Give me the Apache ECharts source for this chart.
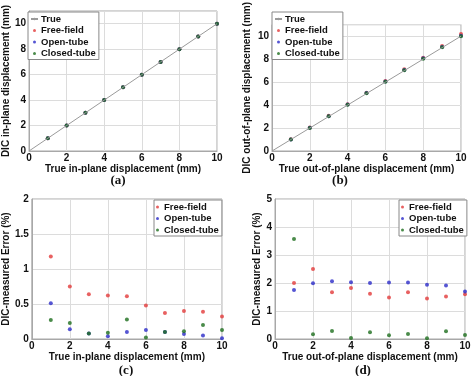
<!DOCTYPE html>
<html>
<head>
<meta charset="utf-8">
<script src="https://cdn.jsdelivr.net/npm/echarts@6/dist/echarts.min.js"></script>
<style>
	html, body { margin: 0; padding: 0; background: #fff; }
	#chart { width: 474px; height: 376px; }
</style>
</head>
<body>
<div id="chart"></div>
<script>
// 資料
var dispX = [1, 2, 3, 4, 5, 6, 7, 8, 9, 10];
var trueX = [0, 1, 2, 3, 4, 5, 6, 7, 8, 9, 10];

// (a) in-plane
var inFree = [1.0, 2.0, 3.0, 4.0, 5.0, 6.0, 7.0, 8.0, 9.0, 10.0];
var inOpen = [1.0, 2.0, 3.0, 4.0, 5.0, 6.0, 7.0, 8.0, 9.0, 10.0];
var inClosed = [1.0, 2.0, 3.0, 4.0, 5.0, 6.0, 7.0, 8.0, 9.0, 10.0];

// (b) out-of-plane
var outFree = [1.03, 2.05, 3.06, 4.07, 5.08, 6.09, 7.11, 8.13, 9.15, 10.18];
var outOpen = [1.01, 2.02, 3.03, 4.04, 5.05, 6.05, 7.06, 8.07, 9.06, 10.04];
var outClosed = [1.0, 2.01, 3.02, 4.02, 5.03, 6.03, 7.04, 8.04, 9.03, 10.0];

// (c) in-plane error (%)
var errInFree = [1.18, 0.75, 0.64, 0.62, 0.61, 0.48, 0.37, 0.40, 0.39, 0.32];
var errInOpen = [0.51, 0.14, 0.08, 0.04, 0.10, 0.13, 0.10, 0.07, 0.05, 0.01];
var errInClosed = [0.27, 0.23, 0.08, 0.09, 0.28, 0.02, 0.10, 0.11, 0.20, 0.13];

// (d) out-of-plane error (%)
var errOutFree = [2.0, 2.5, 1.67, 1.82, 1.62, 1.48, 1.67, 1.45, 1.52, 1.60];
var errOutOpen = [1.75, 1.99, 2.06, 2.03, 2.0, 2.02, 2.02, 1.94, 1.91, 1.70];
var errOutClosed = [3.57, 0.17, 0.29, 0.04, 0.24, 0.13, 0.18, 0.03, 0.28, 0.14];

var color = { "True": "#9a9a9a", "Free-field": "#e23a3a", "Open-tube": "#2a2ac8", "Closed-tube": "#1d6e1d" };
var font = "Liberation Sans, Arial, sans-serif";
var gridColor = "#dcdcdc";
var boxColor = "#a8a8a8";

var grids = [
	{ left: 28, top: 11, width: 189, height: 140 },
	{ left: 272, top: 11, width: 189, height: 140 },
	{ left: 31, top: 199, width: 191, height: 140 },
	{ left: 275, top: 199, width: 190, height: 140 }
];

function pairs(ys, xs) {
	xs = xs || dispX;
	return xs.map(function (x, i) { return [x, ys[i]]; });
}

function xAxis(idx, name) {
	return {
		gridIndex: idx, type: "value", min: 0, max: 10, interval: 2,
		name: name, nameLocation: "middle", nameGap: 10,
		nameTextStyle: { fontFamily: font, fontWeight: "bold", fontSize: 10, color: "#111" },
		axisLine: { show: true, lineStyle: { color: boxColor } },
		axisTick: { show: false },
		axisLabel: { margin: 2, fontFamily: font, fontWeight: "bold", fontSize: 10, color: "#111" },
		splitLine: { show: true, lineStyle: { color: gridColor } }
	};
}

function yAxis(idx, name, max, interval, gap) {
	return {
		gridIndex: idx, type: "value", min: 0, max: max, interval: interval,
		name: name, nameLocation: "middle", nameGap: gap,
		nameTextStyle: { fontFamily: font, fontWeight: "bold", fontSize: 10, color: "#111" },
		axisLine: { show: true, lineStyle: { color: boxColor } },
		axisTick: { show: false },
		axisLabel: { margin: 3, showMaxLabel: max % interval === 0, fontFamily: font, fontWeight: "bold", fontSize: 10, color: "#111" },
		splitLine: { show: true, lineStyle: { color: gridColor } }
	};
}

function legend(names, pos) {
	return Object.assign({
		orient: "vertical",
		data: names,
		backgroundColor: "#fff",
		borderColor: "#888",
		borderWidth: 1,
		padding: [2, 3, 1, 2],
		itemWidth: 7,
		itemHeight: 3,
		itemGap: 1.5,
		textStyle: { fontFamily: font, fontWeight: "bold", fontSize: 9.5, color: "#111", padding: [0, 0, 0, -2], lineHeight: 10 },
		selectedMode: false
	}, pos);
}

function scatter(name, idx, ys) {
	return {
		name: name, type: "scatter", xAxisIndex: idx, yAxisIndex: idx,
		symbol: "circle", symbolSize: 4,
		itemStyle: { color: color[name] },
		data: pairs(ys)
	};
}

function trueLine(idx) {
	return {
		name: "True", type: "line", xAxisIndex: idx, yAxisIndex: idx,
		symbol: "none", lineStyle: { color: color["True"], width: 1 },
		itemStyle: { color: color["True"] },
		data: pairs(trueX, trueX)
	};
}

function caption(text, x, y) {
	return {
		type: "text", x: x, y: y,
		style: { text: text, textAlign: "center", textVerticalAlign: "middle", font: "bold 13px 'Liberation Serif', 'Times New Roman', serif", fill: "#111" }
	};
}

var myChart = echarts.init(document.getElementById("chart"), null, { renderer: "canvas" });
var allNames = ["True", "Free-field", "Open-tube", "Closed-tube"];
var errNames = ["Free-field", "Open-tube", "Closed-tube"];

var option = {
	animation: false,
	grid: grids.map(function (g) { return Object.assign({ show: true, borderColor: boxColor, borderWidth: 1, backgroundColor: "#fff" }, g); }),
	xAxis: [
		xAxis(0, "True in-plane displacement (mm)"),
		xAxis(1, "True out-of-plane displacement (mm)"),
		xAxis(2, "True in-plane displacement (mm)"),
		xAxis(3, "True out-of-plane displacement (mm)")
	],
	yAxis: [
		yAxis(0, "DIC in-plane displacement (mm)", 11, 2, 13),
		yAxis(1, "DIC out-of-plane displacement (mm)", 11, 2, 20),
		yAxis(2, "DIC-measured Error (%)", 2, 0.5, 14),
		yAxis(3, "DIC-measured Error (%)", 5, 1, 8)
	],
	legend: [
		legend(allNames, { left: 28, top: 12 }),
		legend(allNames, { left: 272, top: 12 }),
		legend(errNames, { left: 154, top: 200 }),
		legend(errNames, { left: 399, top: 200 })
	],
	graphic: [
		caption("(a)", 118, 181),
		caption("(b)", 340, 181),
		caption("(c)", 126, 371),
		caption("(d)", 363, 371)
	],
	series: [
		trueLine(0),
		scatter("Free-field", 0, inFree),
		scatter("Open-tube", 0, inOpen),
		scatter("Closed-tube", 0, inClosed),
		trueLine(1),
		scatter("Free-field", 1, outFree),
		scatter("Open-tube", 1, outOpen),
		scatter("Closed-tube", 1, outClosed),
		scatter("Free-field", 2, errInFree),
		scatter("Open-tube", 2, errInOpen),
		scatter("Closed-tube", 2, errInClosed),
		scatter("Free-field", 3, errOutFree),
		scatter("Open-tube", 3, errOutOpen),
		scatter("Closed-tube", 3, errOutClosed)
	]
};
myChart.setOption(option);
</script>
</body>
</html>
